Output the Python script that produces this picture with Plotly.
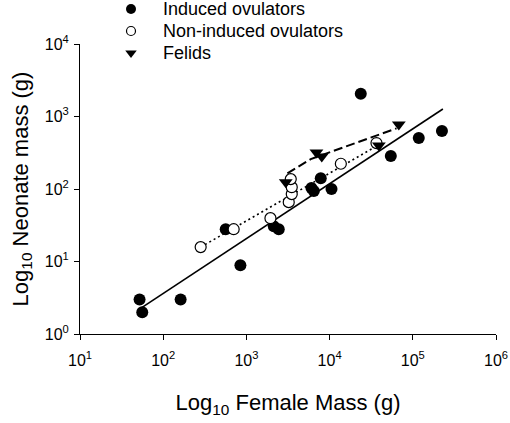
import plotly.graph_objects as go

# ---- data ----
induced_mass = [52, 56, 162, 847, 564, 2133, 2449, 6050, 6460, 7830, 10540, 23700, 54400, 118000, 224000]
induced_neonate = [3.0, 2.0, 3.0, 8.9, 27.9, 30.7, 27.9, 103, 94, 141, 100, 2065, 285, 505, 631]

noninduced_mass = [282, 703, 1945, 3228, 3508, 3508, 3413, 13650, 36600]
noninduced_neonate = [15.8, 27.9, 39.6, 65.9, 85, 106, 137, 223, 430]

felid_mass = [2972, 6950, 8050, 39100, 67900]
felid_neonate = [124, 318, 280, 398, 775]

# fitted lines (end points / vertices)
fit_induced_x = [53.5, 230000]
fit_induced_y = [2.26, 1270]
fit_noninduced_x = [282, 37000]
fit_noninduced_y = [15.8, 392]
fit_felid_x = [3110, 5940, 63800]
fit_felid_y = [164, 259, 687]

legend_names = ["Induced ovulators", "Non-induced ovulators", "Felids"]

tick_x_vals = [10, 100, 1000, 10000, 100000, 1000000]
tick_x_text = ["10<sup>1</sup>", "10<sup>2</sup>", "10<sup>3</sup>", "10<sup>4</sup>", "10<sup>5</sup>", "10<sup>6</sup>"]
tick_y_vals = [1, 10, 100, 1000, 10000]
tick_y_text = ["10<sup>0</sup>", "10<sup>1</sup>", "10<sup>2</sup>", "10<sup>3</sup>", "10<sup>4</sup>"]

FONT = "Arial, Liberation Sans, Helvetica, sans-serif"

W, H = 510, 423
ML, MR, MB = 80, 14, 89
AXIS_TOP = 44                      # pixel row of the top of the y axis
PLOT_H = H - MB                    # full height of the plotting region (margin t = 0)
y_domain_top = (PLOT_H - AXIS_TOP) / PLOT_H

fig = go.Figure()

# lines
fig.add_trace(go.Scatter(x=fit_induced_x, y=fit_induced_y, mode="lines",
                         line=dict(color="black", width=1.6), showlegend=False, hoverinfo="skip"))
fig.add_trace(go.Scatter(x=fit_noninduced_x, y=fit_noninduced_y, mode="lines",
                         line=dict(color="black", width=1.6, dash="2px,3px"), showlegend=False, hoverinfo="skip"))
fig.add_trace(go.Scatter(x=fit_felid_x, y=fit_felid_y, mode="lines",
                         line=dict(color="black", width=2, dash="9px,4px"), showlegend=False, hoverinfo="skip"))

# markers
marker_styles = [
    dict(symbol="circle", size=12, color="black"),
    dict(symbol="circle", size=11, color="white", line=dict(color="black", width=1.2)),
    dict(symbol="triangle-down", size=12, color="black"),
]
fig.add_trace(go.Scatter(x=induced_mass, y=induced_neonate, mode="markers",
                         marker=marker_styles[0], name=legend_names[0], showlegend=False))
fig.add_trace(go.Scatter(x=noninduced_mass, y=noninduced_neonate, mode="markers",
                         marker=marker_styles[1], name=legend_names[1], showlegend=False))
fig.add_trace(go.Scatter(x=felid_mass, y=felid_neonate, mode="markers",
                         marker=marker_styles[2], name=legend_names[2], showlegend=False))

# manual legend on an overlay axis measured in page pixels
leg_x_marker = 131
leg_x_text = 161
leg_y = [9, 31, 53]
legend_marker_styles = [
    dict(symbol="circle", size=10, color="black"),
    dict(symbol="circle", size=9, color="white", line=dict(color="black", width=1.2)),
    dict(symbol="triangle-down", size=10, color="black"),
]
for i, name in enumerate(legend_names):
    fig.add_trace(go.Scatter(x=[leg_x_marker], y=[leg_y[i]], mode="markers", xaxis="x2", yaxis="y2",
                             marker=legend_marker_styles[i], cliponaxis=False,
                             showlegend=False, hoverinfo="skip"))
    fig.add_annotation(x=leg_x_text, y=leg_y[i], xref="x2", yref="y2", text=name,
                       showarrow=False, xanchor="left", yanchor="middle",
                       font=dict(family=FONT, size=18, color="black"))

axis_common = dict(type="log", showline=True, linecolor="black", linewidth=1,
                   ticks="outside", ticklen=5, tickwidth=1, tickcolor="black",
                   showgrid=False, zeroline=False, mirror=False, automargin=False,
                   tickfont=dict(family=FONT, size=16, color="black"))

fig.update_layout(
    width=W, height=H,
    margin=dict(l=ML, r=MR, t=0, b=MB),
    paper_bgcolor="white", plot_bgcolor="rgba(0,0,0,0)",
    font=dict(family=FONT, color="black"),
    showlegend=False,
    xaxis=dict(range=[1, 6], tickvals=tick_x_vals, ticktext=tick_x_text,
               ticklabelstandoff=7,
               title=dict(text="Log<sub>10</sub> Female Mass (g)",
                          font=dict(family=FONT, size=22, color="black"), standoff=26),
               **axis_common),
    yaxis=dict(range=[0, 4], domain=[0, y_domain_top], tickvals=tick_y_vals, ticktext=tick_y_text,
               ticklabelstandoff=2,
               title=dict(text="Log<sub>10</sub> Neonate mass (g)",
                          font=dict(family=FONT, size=22, color="black"), standoff=10),
               **axis_common),
    xaxis2=dict(overlaying="x", range=[ML, W - MR], visible=False, fixedrange=True),
    yaxis2=dict(anchor="x2", domain=[0, 1], range=[PLOT_H, 0], visible=False, fixedrange=True),
)

fig.write_html("out.html")
